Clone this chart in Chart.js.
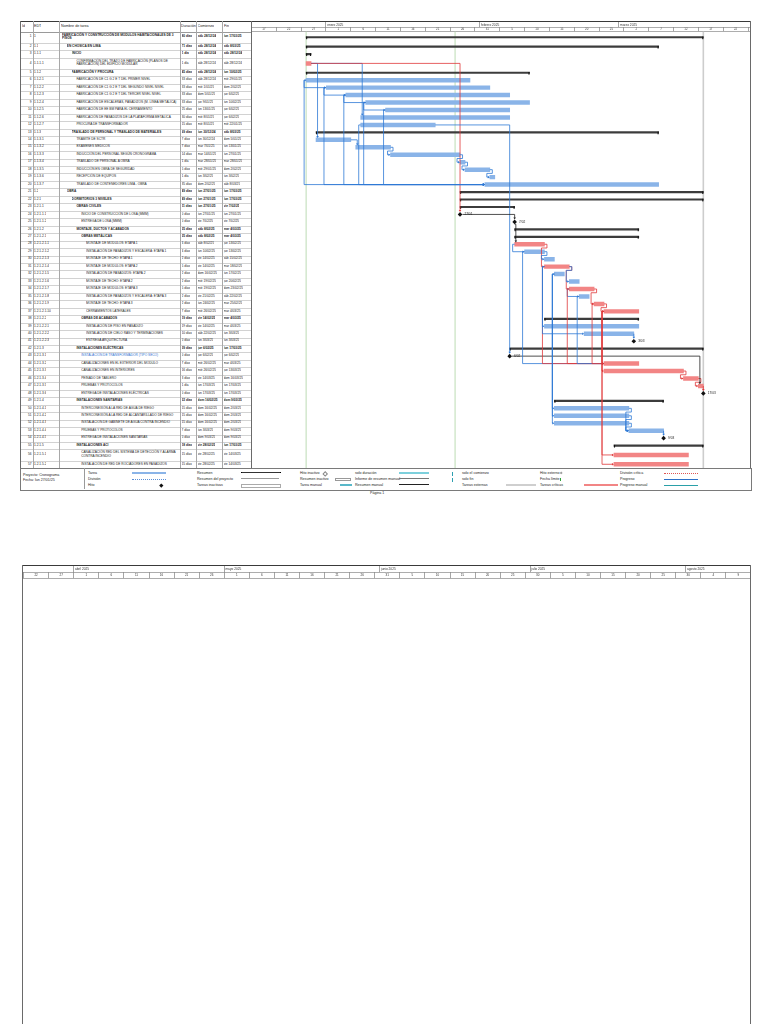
<!DOCTYPE html>
<html>
<head>
<meta charset="utf-8">
<title>Cronograma</title>
<script src="https://cdn.jsdelivr.net/npm/chart.js@4.4.1/dist/chart.umd.min.js"></script>
<style>
  html, body { margin: 0; padding: 0; background: #fff; }
  body { width: 768px; height: 1024px; position: relative; overflow: hidden;
         font-family: 'Liberation Sans', Arial, sans-serif; color: #222; }
  .a { position: absolute; }
  .cell { position: absolute; display: flex; align-items: center; white-space: nowrap;
          font-size: 3.2px; line-height: 3.7px; overflow: hidden; }
  .hd { font-size: 3.7px; }
  .lg { position: absolute; font-size: 3.6px; white-space: nowrap; line-height: 4px; }
</style>
</head>
<body>
<canvas id="gantt" width="499" height="446" style="position:absolute;left:251px;top:22px;"></canvas>
<canvas id="gantt2" width="728" height="458" style="position:absolute;left:22px;top:566px;"></canvas>
<script>
// Cronograma - fabricación y construcción de módulos (vista Gantt)

// ---- datos de tareas ----
const wbsCodes = ['1','1.1','1.1.1','1.1.1.1','1.1.2','1.1.2.1','1.1.2.2','1.1.2.3','1.1.2.4','1.1.2.5',
  '1.1.2.6','1.1.2.7','1.1.3','1.1.3.1','1.1.3.2','1.1.3.3','1.1.3.4','1.1.3.5','1.1.3.6','1.1.3.7',
  '1.2','1.2.1','1.2.1.1','1.2.1.1.1','1.2.1.1.2','1.2.1.2','1.2.1.2.1','1.2.1.2.1.1','1.2.1.2.1.2','1.2.1.2.1.3',
  '1.2.1.2.1.4','1.2.1.2.1.5','1.2.1.2.1.6','1.2.1.2.1.7','1.2.1.2.1.8','1.2.1.2.1.9','1.2.1.2.1.10','1.2.1.2.2','1.2.1.2.2.1','1.2.1.2.2.2',
  '1.2.1.2.2.3','1.2.1.3','1.2.1.3.1','1.2.1.3.2','1.2.1.3.3','1.2.1.3.4','1.2.1.3.5','1.2.1.3.6','1.2.1.4','1.2.1.4.1',
  '1.2.1.4.2','1.2.1.4.3','1.2.1.4.4','1.2.1.4.5','1.2.1.5','1.2.1.5.1','1.2.1.5.2'];

const taskNames = [
  'FABRICACIÓN Y CONSTRUCCIÓN DE MODULOS HABITACIONALES DE 3 PISOS',
  'EN CHOSICA EN LIMA',
  'INICIO',
  'CONFIRMACIÓN DEL TRAZO DE FABRICACIÓN (PLANOS DE FABRICACIÓN) DEL EDIFICIO MODULAR',
  'FABRICACIÓN Y PROCURA',
  'FABRICACIÓN DE C1 G 2 E T DEL PRIMER NIVEL',
  'FABRICACIÓN DE C1 G 2 E T DEL SEGUNDO NIVEL NIVEL',
  'FABRICACIÓN DE C1 G 2 E T DEL TERCER NIVEL NIVEL',
  'FABRICACIÓN DE ESCALERAS, PASADIZOS (M. LÍNEA METÁLICA)',
  'FABRICACIÓN DE EE BM PARA EL CERRAMIENTO',
  'FABRICACIÓN DE PASADIZOS DE LA PLATAFORMA METÁLICA',
  'PROCURA DE TRANSFORMADOR',
  'TRASLADO DE PERSONAL Y TRASLADO DE MATERIALES',
  'TRÁMITE DE SCTR',
  'EXÁMENES MÉDICOS',
  'INDUCCIÓN DEL PERSONAL SEGÚN CRONOGRAMA',
  'TRASLADO DE PERSONAL A OBRA',
  'INDUCCIÓN EN OBRA DE SEGURIDAD',
  'RECEPCIÓN DE EQUIPOS',
  'TRASLADO DE CONTENEDORES LIMA - OBRA',
  'OBRA',
  'DORMITORIOS 3 NIVELES',
  'OBRAS CIVILES',
  'INICIO DE CONSTRUCCIÓN DE LOSA (MMM)',
  'ENTREGA DE LOSA (MMM)',
  'MONTAJE, DUCTOS Y ACABADOS',
  'OBRAS METÁLICAS',
  'MONTAJE DE MODULOS: ETAPA 1',
  'INSTALACIÓN DE PASADIZOS Y ESCALERA: ETAPA 1',
  'MONTAJE DE TECHO: ETAPA 1',
  'MONTAJE DE MODULOS: ETAPA 2',
  'INSTALACIÓN DE PASADIZOS: ETAPA 2',
  'MONTAJE DE TECHO: ETAPA 2',
  'MONTAJE DE MODULOS: ETAPA 3',
  'INSTALACIÓN DE PASADIZOS Y ESCALERA: ETAPA 3',
  'MONTAJE DE TECHO: ETAPA 3',
  'CERRAMIENTOS LATERALES',
  'OBRAS DE ACABADOS',
  'INSTALACIÓN DE PISO EN PASADIZO',
  'INSTALACIÓN DE CIELO RASO Y TERMINACIONES',
  'ENTREGA ARQUITECTURA',
  'INSTALACIONES ELÉCTRICAS',
  'INSTALACIÓN DE TRANSFORMADOR (TIPO SECO)',
  'CANALIZACIONES EN EL EXTERIOR DEL MODULO',
  'CANALIZACIONES EN INTERIORES',
  'PEINADO DE TABLERO',
  'PRUEBAS Y PROTOCOLOS',
  'ENTREGA DE INSTALACIONES ELÉCTRICAS',
  'INSTALACIONES SANITARIAS',
  'INTERCONEXIÓN A LA RED DE AGUA DE RIEGO',
  'INTERCONEXIÓN A LA RED DE ALCANTARILLADO DE RIEGO',
  'INSTALACIÓN DE GABINETE DE AGUA CONTRA INCENDIO',
  'PRUEBAS Y PROTOCOLOS',
  'ENTREGA DE INSTALACIONES SANITARIAS',
  'INSTALACIONES ACI',
  'CANALIZACIÓN RED DEL SISTEMA DE DETECCIÓN Y ALARMA CONTRA INCENDIO',
  'INSTALACIÓN DE RED DE ROCIADORES EN PASADIZOS'];

const durationText = ['80 días','71 días','1 día','1 día','45 días','33 días','33 días','33 días','33 días','25 días',
  '30 días','15 días','69 días','7 días','7 días','14 días','1 día','5 días','1 día','35 días',
  '49 días','49 días','11 días','0 días','0 días','25 días','25 días','6 días','4 días','2 días',
  '5 días','2 días','2 días','5 días','2 días','2 días','7 días','19 días','19 días','10 días',
  '0 días','39 días','0 días','7 días','16 días','3 días','1 día','0 días','22 días','15 días',
  '15 días','15 días','7 días','0 días','18 días','15 días','15 días'];

const startText = ['sáb 28/12/24','sáb 28/12/24','sáb 28/12/24','sáb 28/12/24','sáb 28/12/24','sáb 28/12/24','mié 1/01/25','dom 5/01/25','jue 9/01/25','lun 13/01/25',
  'mié 8/01/25','mié 8/01/25','lun 30/12/24','lun 30/12/24','mar 7/01/25','mar 14/01/25','mar 28/01/25','mié 29/01/25','lun 3/02/25','dom 2/02/25',
  'lun 27/01/25','lun 27/01/25','lun 27/01/25','lun 27/01/25','vie 7/02/25','sáb 8/02/25','sáb 8/02/25','sáb 8/02/25','lun 10/02/25','vie 14/02/25',
  'vie 14/02/25','dom 16/02/25','mié 19/02/25','mié 19/02/25','vie 21/02/25','lun 24/02/25','mié 26/02/25','vie 14/02/25','vie 14/02/25','sáb 22/02/25',
  'lun 3/03/25','jue 6/02/25','jue 6/02/25','mié 26/02/25','mié 26/02/25','vie 14/03/25','lun 17/03/25','lun 17/03/25','dom 16/02/25','dom 16/02/25',
  'dom 16/02/25','dom 16/02/25','lun 3/03/25','dom 9/03/25','vie 28/02/25','vie 28/02/25','vie 28/02/25'];

const finishText = ['lun 17/03/25','sáb 8/03/25','sáb 28/12/24','sáb 28/12/24','lun 10/02/25','mié 29/01/25','dom 2/02/25','jue 6/02/25','lun 10/02/25','jue 6/02/25',
  'jue 6/02/25','mié 22/01/25','sáb 8/03/25','dom 5/01/25','lun 13/01/25','lun 27/01/25','mar 28/01/25','dom 2/02/25','lun 3/02/25','sáb 8/03/25',
  'lun 17/03/25','lun 17/03/25','vie 7/02/25','lun 27/01/25','vie 7/02/25','mar 4/03/25','mar 4/03/25','jue 13/02/25','jue 13/02/25','sáb 15/02/25',
  'mar 18/02/25','lun 17/02/25','jue 20/02/25','dom 23/02/25','sáb 22/02/25','mar 25/02/25','mar 4/03/25','mar 4/03/25','mar 4/03/25','lun 3/03/25',
  'lun 3/03/25','lun 17/03/25','jue 6/02/25','mar 4/03/25','jue 13/03/25','dom 16/03/25','lun 17/03/25','lun 17/03/25','dom 9/03/25','dom 2/03/25',
  'dom 2/03/25','dom 2/03/25','dom 9/03/25','dom 9/03/25','lun 17/03/25','vie 14/03/25','vie 14/03/25'];

// días contados desde el 1/01/2025 (inicio y fin de barra)
const startDay = [-4,-4,-4,-4,-4,-4,0,4,8,12, 7,7,-2,-2,6,13,27,28,33,32,
  27,27,27,27,38,38,38,38,40,44, 44,46,49,49,51,54,56,44,44,52,
  62,37,37,56,56,72,75,76,46,46, 46,46,61,68,58,58,58];
const endDay = [76,67,-3,-3,41,29,33,37,41,37, 37,22,67,5,13,27,28,33,34,67,
  76,76,38,27,38,63,63,44,44,46, 49,48,51,54,53,56,63,63,63,62,
  62,76,37,63,72,75,76,76,68,61, 61,61,68,68,76,73,73];

// S resumen, T tarea, C tarea crítica, M hito
const taskKind = ['S','S','S','C','S','T','T','T','T','T', 'T','T','S','T','T','T','T','T','T','T',
  'S','S','S','M','M','S','S','C','T','T', 'C','T','T','C','T','C','C','S','T','T',
  'M','S','M','C','C','C','C','M','S','T', 'T','T','T','M','S','C','C'];

// vínculos [predecesora, sucesora]
const fsLinks = [[4,14],[4,11],[4,24],[14,15],[15,16],[16,17],[17,18],[18,19],[12,43],[24,25],
  [25,28],[28,31],[31,34],[34,36],[36,37],[29,30],[31,33],[40,41],[45,46],[46,47],
  [47,48],[50,53],[51,53],[52,53],[53,54],[43,47]];
const ssLinks = [[6,7],[7,8],[8,9],[9,10],[6,20],[7,20],[8,20],[9,20],[10,20],[12,20],
  [28,29],[29,44],[31,44],[31,39],[31,40],[32,50],[32,51],[32,52],[34,35],[34,44],
  [35,44],[36,44],[37,44],[37,45],[37,56],[37,57]];

const projectStart = -4, statusDate = 26, projectFinish = 76;

// ---- escala de tiempo ----
const dayTickValues = [-15,-10,-5,0,5,10,15,20,25,30,35,40,45,50,55,60,65,70,75,80,85];
const dayTickLabels = ['17','22','27','1','6','11','16','21','26','31','5','10','15','20','25','2','7','12','17','22','27'];
const monthTickValues = [0, 31, 59];
const monthTickLabels = ['enero 2025','febrero 2025','marzo 2025'];

const page2DayTickValues = [80,85,90,95,100,105,110,115,120,125,130,135,140,145,150,155,160,165,170,175,180,185,190,195,200,205,210,215,220];
const page2DayTickLabels = ['22','27','1','6','11','16','21','26','1','6','11','16','21','26','31','5','10','15','20','25','30','5','10','15','20','25','30','4','9'];
const page2MonthTickValues = [90, 120, 151, 181, 212];
const page2MonthTickLabels = ['abril 2025','mayo 2025','junio 2025','julio 2025','agosto 2025'];

// ---- diseño ----
const ROW = 7.46, TOP = 31.7;
const tallRows = [1, 4, 56];
const colX = [20, 33, 59, 180, 196, 222, 251];
const blueText = [43];

const rowUnits = wbsCodes.map((c, i) => tallRows.includes(i + 1) ? 1.5 : 1);
const rowTop = [];
let acc = 0;
rowUnits.forEach(u => { rowTop.push(acc); acc += u; });
const totalUnits = acc;
const rowCenter = rowTop.map((t, i) => t + rowUnits[i] / 2);

function box(css, text, cls) {
  const d = document.createElement('div');
  d.className = cls || 'a';
  d.style.cssText = css;
  if (text !== undefined) d.textContent = text;
  document.body.appendChild(d);
  return d;
}

// tabla
const tableBottom = TOP + totalUnits * ROW;
box(`left:20px;top:21px;width:730px;height:0;border-top:1.5px solid #3a3a3a;`);
box(`left:20px;top:${TOP}px;width:231px;height:0;border-top:1px solid #9a9a9a;`);
[['Id', 22], ['EDT', 34], ['Nombre de tarea', 61], ['Duración', 181], ['Comienzo', 197.5], ['Fin', 224]].forEach(h => {
  box(`left:${h[1]}px;top:22px;height:9.7px;`, h[0], 'cell hd');
});
wbsCodes.forEach((code, i) => {
  const y = TOP + rowTop[i] * ROW, h = rowUnits[i] * ROW;
  const bold = taskKind[i] === 'S' ? 'font-weight:bold;' : '';
  const lvl = code.split('.').length;
  const nx = 62 + (lvl - 1) * 4.8;
  const wrap = rowUnits[i] > 1 ? `white-space:normal;width:${176 - nx}px;` : `width:${178 - nx}px;`;
  const color = blueText.includes(i + 1) ? 'color:#2f6fd0;' : '';
  box(`left:20px;top:${y + h}px;width:231px;height:0;border-top:1px solid #d2d2d2;`);
  box(`left:21px;top:${y}px;width:10.5px;height:${h}px;justify-content:flex-end;`, String(i + 1), 'cell');
  box(`left:34px;top:${y}px;height:${h}px;`, code, 'cell');
  box(`left:${nx}px;top:${y}px;height:${h}px;${wrap}${bold}${color}`, taskNames[i], 'cell');
  box(`left:181.5px;top:${y}px;height:${h}px;${bold}`, durationText[i], 'cell');
  box(`left:197.5px;top:${y}px;height:${h}px;${bold}`, startText[i], 'cell');
  box(`left:223.5px;top:${y}px;height:${h}px;${bold}`, finishText[i], 'cell');
});
colX.forEach((x, k) => {
  const c = (k === 0 || k === colX.length - 1) ? '#6a6a6a' : '#a8a8a8';
  box(`left:${x}px;top:21px;width:0;height:${tableBottom - 21}px;border-left:1px solid ${c};`);
});
box(`left:750px;top:21px;width:0;height:${tableBottom - 21}px;border-left:1px solid #6a6a6a;`);

// leyenda
const LG = tableBottom + 1;
box(`left:20px;top:${tableBottom}px;width:730px;height:21px;border:1px solid #7a7a7a;border-top:1px solid #7a7a7a;`);
box(`left:84px;top:${tableBottom}px;width:0;height:21px;border-left:1px solid #9a9a9a;`);
box(`left:23px;top:${LG + 3.5}px;`, 'Proyecto: Cronograma', 'lg');
box(`left:23px;top:${LG + 8.5}px;`, 'Fecha: lun 27/01/25', 'lg');

const legendCols = [88, 197, 300, 355, 462, 540, 620];
const legendRows = [LG + 1.5, LG + 7.5, LG + 13.5];
const legendText = [
  ['Tarea', 'División', 'Hito'],
  ['Resumen', 'Resumen del proyecto', 'Tareas inactivas'],
  ['Hito inactivo', 'Resumen inactivo', 'Tarea manual'],
  ['solo duración', 'Informe de resumen manual', 'Resumen manual'],
  ['solo el comienzo', 'solo fin', 'Tareas externas'],
  ['Hito externo', 'Fecha límite', 'Tareas críticas'],
  ['División crítica', 'Progreso', 'Progreso manual']];
legendText.forEach((col, c) => col.forEach((t, r) => box(`left:${legendCols[c]}px;top:${legendRows[r]}px;`, t, 'lg')));
function sym(c, r, css) { box(`left:${legendCols[c] + 44}px;top:${legendRows[r] + 1}px;` + css); }
sym(0, 0, 'width:34px;height:2.6px;background:#8ab4e8;');
sym(0, 1, 'width:34px;height:0;border-top:1px dotted #5b8fd6;margin-top:1px;');
sym(0, 2, 'left:160px;width:2.6px;height:2.6px;background:#111;transform:rotate(45deg);');
sym(1, 0, 'width:38px;height:1.3px;background:#333;border-left:1px solid #000;border-right:1px solid #000;');
sym(1, 1, 'width:38px;height:1.3px;background:#999;');
sym(1, 2, 'width:38px;height:2.2px;border:0.6px solid #aaa;');
sym(2, 0, 'left:323px;width:2.4px;height:2.4px;border:0.6px solid #888;transform:rotate(45deg);');
sym(2, 1, 'left:335px;width:14px;height:1.3px;border:0.5px solid #999;');
sym(2, 2, 'left:340px;width:12px;height:2.6px;background:#59b8c9;');
sym(3, 0, 'width:30px;height:2.6px;background:#7dd0dc;');
sym(3, 1, 'width:30px;height:1.3px;background:#777;');
sym(3, 2, 'width:30px;height:1.3px;background:#222;');
sym(4, 0, 'left:452px;width:1px;height:4px;border-left:1px solid #2d9fb0;');
sym(4, 1, 'left:452px;width:1px;height:4px;border-left:1px solid #2d9fb0;');
sym(4, 2, 'width:30px;height:2.6px;background:#cfcfcf;');
sym(5, 0, 'left:560px;width:2.4px;height:2.4px;background:#9a9a9a;transform:rotate(45deg);');
sym(5, 1, 'left:560px;width:1px;height:3px;border-left:1px solid #2fa33a;');
sym(5, 2, 'width:34px;height:2.6px;background:#f28585;');
sym(6, 0, 'width:34px;height:0;border-top:1px dotted #e05555;margin-top:1px;');
sym(6, 1, 'width:34px;height:1px;background:#2d6fc9;margin-top:1px;');
sym(6, 2, 'width:34px;height:1px;background:#2aa0a8;margin-top:1px;');
box(`left:370px;top:${tableBottom + 22.5}px;`, 'Página 1', 'lg');

// página 2 (solo escala de tiempo)
box(`left:22px;top:565px;width:728px;height:0;border-top:1.5px solid #3a3a3a;`);
box(`left:22px;top:565px;width:0;height:460px;border-left:1px solid #6a6a6a;`);
box(`left:750px;top:565px;width:0;height:460px;border-left:1px solid #6a6a6a;`);

// ---- gráficos ----
function tierAxis(values, labels, weight, height, opts) {
  return Object.assign({
    type: 'linear', position: 'top', weight: weight, offset: false,
    afterBuildTicks: s => { s.ticks = values.map(v => ({ value: v })); },
    afterFit: s => { s.height = height; s.paddingLeft = 0; s.paddingRight = 0; s.paddingTop = 0; s.paddingBottom = 0; },
    grid: { drawOnChartArea: false, drawTicks: true, tickLength: height, color: '#6a6a6a', lineWidth: 0.6, offset: false },
    border: { display: true, color: '#8a8a8a', width: 0.7 },
    ticks: { autoSkip: false, maxRotation: 0, minRotation: 0, color: '#333',
             font: { size: 3, family: 'Liberation Sans' },
             callback: (v, i) => labels[i] }
  }, opts || {});
}

const rowAxis = {
  type: 'linear', min: 0, max: totalUnits, reverse: true, display: false,
  offset: false, grid: { offset: false }
};

const ganttLines = {
  id: 'ganttLines',
  beforeDatasetsDraw(chart) {
    const { ctx, chartArea, scales } = chart;
    const x = scales.x;
    ctx.save();
    [[projectStart, '#bcdcb4', 1], [statusDate, '#bcdcb4', 1], [projectFinish, '#cdcdcd', 1.6]].forEach(l => {
      const px = x.getPixelForValue(l[0]);
      ctx.strokeStyle = l[1]; ctx.lineWidth = l[2];
      ctx.beginPath(); ctx.moveTo(px, chartArea.top); ctx.lineTo(px, chartArea.bottom); ctx.stroke();
    });
    ctx.restore();
  }
};

function geom(chart, row) {
  const x = chart.scales.x, y = chart.scales.y;
  const i = row - 1, k = taskKind[i];
  const py = y.getPixelForValue(rowCenter[i]);
  if (k === 'M') {
    const px = x.getPixelForValue(startDay[i]);
    return { x0: px - 2.4, x1: px + 2.4, xc: px, y: py, h: 2.4, m: true };
  }
  return { x0: x.getPixelForValue(startDay[i]), x1: x.getPixelForValue(endDay[i]), y: py, h: k === 'S' ? 1 : 1.8, m: false };
}

function linkColor(a, b) {
  const ka = taskKind[a - 1], kb = taskKind[b - 1];
  if (ka === 'M') return '#222';
  if (ka === 'C' && (kb === 'C' || kb === 'M')) return '#e0383a';
  return '#2f7ad6';
}

function arrow(ctx, x, y, dir) {
  ctx.beginPath();
  if (dir === 'down') { ctx.moveTo(x - 1.3, y - 2); ctx.lineTo(x + 1.3, y - 2); ctx.lineTo(x, y); }
  else { ctx.moveTo(x - 2, y - 1.3); ctx.lineTo(x - 2, y + 1.3); ctx.lineTo(x, y); }
  ctx.closePath(); ctx.fill();
}

const ganttMarks = {
  id: 'ganttMarks',
  afterDatasetsDraw(chart) {
    const ctx = chart.ctx;
    ctx.save();
    // remates de barras resumen
    taskKind.forEach((k, i) => {
      if (k !== 'S') return;
      const g = geom(chart, i + 1);
      ctx.fillStyle = '#111';
      ctx.fillRect(g.x0, g.y - 0.7, 1.1, 2.6);
      ctx.fillRect(g.x1 - 1.1, g.y - 0.7, 1.1, 2.6);
    });
    // vínculos
    ctx.lineWidth = 0.8;
    fsLinks.forEach(([a, b]) => {
      const p = geom(chart, a), s = geom(chart, b);
      const c = linkColor(a, b);
      ctx.strokeStyle = c; ctx.fillStyle = c;
      ctx.beginPath();
      if (p.m && Math.abs(s.x0 - p.xc) < 4) {
        const tx = s.x0 + 1.2;
        ctx.moveTo(p.xc, p.y + p.h); ctx.lineTo(tx, p.y + p.h); ctx.lineTo(tx, s.y - s.h - 1.5); ctx.stroke();
        arrow(ctx, tx, s.y - s.h, 'down');
      } else if (s.x0 - p.x1 >= 3 || s.m) {
        const tx = s.m ? s.xc : s.x0 + 1.5;
        ctx.moveTo(p.x1, p.y); ctx.lineTo(tx, p.y); ctx.lineTo(tx, s.y - s.h - 1.5); ctx.stroke();
        arrow(ctx, tx, s.y - s.h, 'down');
      } else {
        const mid = p.y + ROW * 0.5, xr = p.x1 + 2.5, xl = s.x0 - 3;
        ctx.moveTo(p.x1, p.y); ctx.lineTo(xr, p.y); ctx.lineTo(xr, mid); ctx.lineTo(xl, mid);
        ctx.lineTo(xl, s.y); ctx.lineTo(s.x0 - 1.5, s.y); ctx.stroke();
        arrow(ctx, s.x0, s.y, 'right');
      }
    });
    ssLinks.forEach(([a, b]) => {
      const p = geom(chart, a), s = geom(chart, b);
      const c = linkColor(a, b);
      const xl = Math.min(p.x0, s.x0) - 2;
      ctx.strokeStyle = c; ctx.fillStyle = c;
      ctx.beginPath();
      ctx.moveTo(p.x0, p.y); ctx.lineTo(xl, p.y); ctx.lineTo(xl, s.y); ctx.lineTo(s.x0 - 1.5, s.y); ctx.stroke();
      arrow(ctx, s.x0, s.y, 'right');
    });
    // etiquetas de hitos
    ctx.fillStyle = '#222';
    ctx.font = '3.2px "Liberation Sans"';
    ctx.textBaseline = 'middle';
    taskKind.forEach((k, i) => {
      if (k !== 'M') return;
      const g = geom(chart, i + 1);
      const parts = finishText[i].split(' ')[1].split('/');
      ctx.fillText(parts[0] + '/' + parts[1], g.x1 + 2, g.y);
    });
    ctx.restore();
  }
};

const rowsOf = k => taskKind.map((kk, i) => kk === k ? i : -1).filter(i => i >= 0);
const barData = k => rowsOf(k).map(i => ({ x: [startDay[i], endDay[i]], y: rowCenter[i] }));

new Chart(document.getElementById('gantt'), {
  type: 'bar',
  data: {
    datasets: [
      { label: 'Resumen', data: barData('S'), backgroundColor: '#3c3c3c', barThickness: 1.5, grouped: false },
      { label: 'Tarea', data: barData('T'), backgroundColor: '#8ab4e8', barThickness: 3.8, grouped: false },
      { label: 'Tareas críticas', data: barData('C'), backgroundColor: '#f28585', barThickness: 3.8, grouped: false },
      { type: 'scatter', label: 'Hito', data: rowsOf('M').map(i => ({ x: startDay[i], y: rowCenter[i] })),
        pointStyle: 'rectRot', pointRadius: 2.3, backgroundColor: '#111', borderWidth: 0 }
    ]
  },
  options: {
    indexAxis: 'y', responsive: false, animation: false,
    layout: { padding: 0, autoPadding: false },
    plugins: { legend: { display: false }, tooltip: { enabled: false } },
    scales: {
      x: tierAxis(dayTickValues, dayTickLabels, 0, 4.7, { min: -15.1, max: 85.4,
        ticks: { autoSkip: false, maxRotation: 0, minRotation: 0, color: '#333', padding: -4.2, labelOffset: 12.4,
                 font: { size: 2.9, family: 'Liberation Sans' }, callback: (v, i) => dayTickLabels[i] } }),
      xm: tierAxis(monthTickValues, monthTickLabels, 1, 5, { min: -15.1, max: 85.4,
        ticks: { autoSkip: false, maxRotation: 0, minRotation: 0, color: '#333', padding: -4.6, labelOffset: 1.2, align: 'start',
                 font: { size: 3.2, family: 'Liberation Sans' }, callback: (v, i) => monthTickLabels[i] } }),
      y: rowAxis
    }
  },
  plugins: [ganttLines, ganttMarks]
});

new Chart(document.getElementById('gantt2'), {
  type: 'bar',
  data: { datasets: [{ label: 'Tarea', data: [], backgroundColor: '#8ab4e8' }] },
  options: {
    indexAxis: 'y', responsive: false, animation: false,
    layout: { padding: 0, autoPadding: false },
    plugins: { legend: { display: false }, tooltip: { enabled: false } },
    scales: {
      x: tierAxis(page2DayTickValues, page2DayTickLabels, 0, 6, { min: 79.68, max: 224.8,
        ticks: { autoSkip: false, maxRotation: 0, minRotation: 0, color: '#333', padding: -5, labelOffset: 12.5,
                 font: { size: 3, family: 'Liberation Sans' }, callback: (v, i) => page2DayTickLabels[i] } }),
      xm: tierAxis(page2MonthTickValues, page2MonthTickLabels, 1, 6, { min: 79.68, max: 224.8,
        ticks: { autoSkip: false, maxRotation: 0, minRotation: 0, color: '#333', padding: -5.4, labelOffset: 1.2, align: 'start',
                 font: { size: 3.2, family: 'Liberation Sans' }, callback: (v, i) => page2MonthTickLabels[i] } }),
      y: { type: 'linear', min: 0, max: 10, reverse: true, display: false, offset: false }
    }
  }
});
</script>
</body>
</html>
